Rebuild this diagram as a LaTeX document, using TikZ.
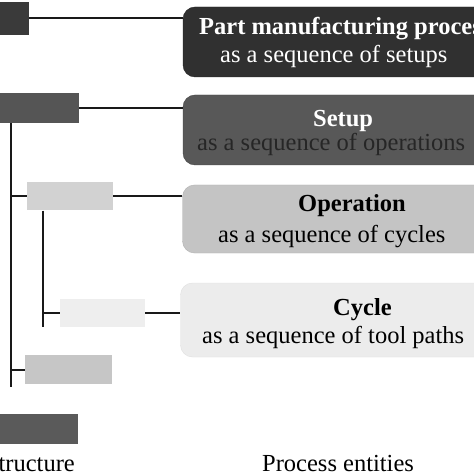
\documentclass[tikz,border=0pt]{standalone}
\usepackage{fontspec}
\setmainfont{Liberation Serif}
\begin{document}
\begin{tikzpicture}[x=1bp,y=-1bp,
  lbox/.style={draw=none,rectangle,inner sep=0pt},
  rbox/.style={rectangle,rounded corners=12bp,inner sep=0pt,minimum width=317bp},
  conn/.style={draw=black!90,line width=2bp},
  txt/.style={anchor=base west,inner sep=0pt,font=\fontsize{24.5bp}{28bp}\selectfont},
  btxt/.style={txt,font=\fontsize{24.5bp}{28bp}\selectfont\bfseries}]
\useasboundingbox (0,0) rectangle (474,474);
\clip (0,0) rectangle (474,474);
\fill[white] (0,0) rectangle (474,474);
\definecolor{cA}{HTML}{3A3A3A}
\definecolor{cB}{HTML}{555555}
\definecolor{cC}{HTML}{D2D2D2}
\definecolor{cD}{HTML}{EEEEEE}
\definecolor{cE}{HTML}{C6C6C6}
\definecolor{cF}{HTML}{5A5A5A}
\definecolor{cP1}{HTML}{303030}
\definecolor{cP2}{HTML}{585858}
\definecolor{cP3}{HTML}{C4C4C4}
\definecolor{cP4}{HTML}{ECECEC}
% left boxes
\node[lbox,fill=cA,minimum width=34bp,minimum height=33bp] (A) at (12,18.5) {};
\node[lbox,fill=cB,minimum width=84bp,minimum height=30bp] (B) at (37,108) {};
\node[lbox,fill=cC,minimum width=86bp,minimum height=28bp] (C) at (70,196.5) {};
\node[lbox,fill=cD,minimum width=85bp,minimum height=28bp] (D) at (102.5,313) {};
\node[lbox,fill=cE,minimum width=87bp,minimum height=29bp] (E) at (68.5,369.5) {};
\node[lbox,fill=cF,minimum width=83bp,minimum height=30bp] (F) at (36.5,429) {};
% right boxes
\node[rbox,fill=cP1,draw=cP1!80!black,minimum height=70bp] (P1) at (341.5,42) {};
\node[rbox,fill=cP2,draw=cP2!80!black,minimum height=70bp] (P2) at (341.5,130) {};
\node[rbox,fill=cP3,draw=cP3!90!black,minimum height=68bp] (P3) at (341,219) {};
\node[rbox,fill=cP4,draw=cP4!95!black,minimum height=74bp] (P4) at (339,320) {};
% texts
\node[btxt,text=white] (t1a) at (199,35) {Part manufacturing process};
\node[txt,text=white] (t1b) at (220,63) {as a sequence of setups};
\node[btxt,text=white] (t2a) at (313,127) {Setup};
\node[txt,text=black!85] (t2b) at (197,151) {as a sequence of operations};
\node[btxt,text=black] (t3a) at (298,212) {Operation};
\node[txt,text=black] (t3b) at (218,242) {as a sequence of cycles};
\node[btxt,text=black] (t4a) at (333,315) {Cycle};
\node[txt,text=black] (t4b) at (202,343) {as a sequence of tool paths};
\node[txt,anchor=base east] (s) at (75,471) {Structure};
\node[txt] (pe) at (262,471) {Process entities};
% connectors
\draw[conn] (A.east) -- (P1.west |- A.east);
\draw[conn] (B.east) -- (P2.west |- B.east);
\draw[conn] (C.east) -- (P3.west |- C.east);
\draw[conn] (D.east) -- (P4.west |- D.east);
\coordinate (trT) at (B.south -| 11,0);
\coordinate (trB) at (11,387);
\coordinate (trC) at (11,0 |- C.west);
\coordinate (trE) at (11,0 |- E.west);
\draw[conn] (trT) -- (trB);
\draw[conn] (trC) -- (C.west);
\draw[conn] (trE) -- (E.west);
\coordinate (cT) at (43,0 |- C.south);
\coordinate (cB) at (43,327);
\coordinate (cD) at (43,0 |- D.west);
\draw[conn] (cT) -- (cB);
\draw[conn] (cD) -- (D.west);
\end{tikzpicture}
\end{document}
